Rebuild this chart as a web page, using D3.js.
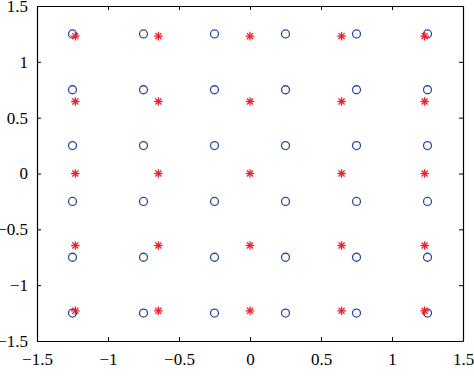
<!DOCTYPE html>
<html>
<head>
<meta charset="utf-8">
<script src="https://cdn.jsdelivr.net/npm/d3@7"></script>
<style>
  body { margin: 0; background: #fff; }
  svg text { font-family: "Liberation Serif", "DejaVu Serif", serif; font-size: 17px; fill: #000; }
</style>
</head>
<body>
<svg id="chart" width="474" height="388"></svg>
<script>
// grid of circles
var circleX = [-1.25, -0.75, -0.25, 0.25, 0.75, 1.25];
var circleY = [-1.25, -0.75, -0.25, 0.25, 0.75, 1.25];
// grid of stars
var starX = [-1.23, -0.645, 0, 0.645, 1.23];
var starY = [-1.23, -0.645, 0, 0.645, 1.23];
var xTicks = [-1.5, -1, -0.5, 0, 0.5, 1, 1.5];
var yTicks = [-1.5, -1, -0.5, 0, 0.5, 1, 1.5];

var svg = d3.select("#chart");
var mLeft = 37, mRight = 463, mTop = 6, mBottom = 341;

var x = d3.scaleLinear().domain([-1.5, 1.5]).range([mLeft, mRight]);
var y = d3.scaleLinear().domain([-1.5, 1.5]).range([mBottom, mTop]);

function fmt(v) { return d3.format("")(v).replace("-", "\u2212"); }

var circles = [];
circleX.forEach(function(cx) { circleY.forEach(function(cy) { circles.push([cx, cy]); }); });
var stars = [];
starX.forEach(function(sx) { starY.forEach(function(sy) { stars.push([sx, sy]); }); });

svg.selectAll("circle.pt")
  .data(circles)
  .enter().append("circle")
  .attr("class", "pt")
  .attr("cx", d => x(d[0]))
  .attr("cy", d => y(d[1]))
  .attr("r", 4)
  .attr("fill", "none")
  .attr("stroke", "#2d4a9c")
  .attr("stroke-width", 1.3);

var r = 4.3;
var star = svg.selectAll("g.star")
  .data(stars)
  .enter().append("g")
  .attr("class", "star")
  .attr("transform", d => "translate(" + x(d[0]) + "," + y(d[1]) + ")");
[0, 45, 90, 135].forEach(function(a) {
  var rad = a * Math.PI / 180;
  star.append("line")
    .attr("x1", -r * Math.cos(rad)).attr("y1", -r * Math.sin(rad))
    .attr("x2", r * Math.cos(rad)).attr("y2", r * Math.sin(rad))
    .attr("stroke", "#e8222b")
    .attr("stroke-width", 1.3);
});

// axes, ticks inward on all four sides
var axBottom = d3.axisBottom(x).tickValues(xTicks).tickSizeInner(-4).tickSizeOuter(0).tickPadding(12).tickFormat(fmt);
var axTop = d3.axisTop(x).tickValues(xTicks).tickSizeInner(-4).tickSizeOuter(0).tickFormat("");
var axLeft = d3.axisLeft(y).tickValues(yTicks).tickSizeInner(-4).tickSizeOuter(0).tickPadding(9).tickFormat(fmt);
var axRight = d3.axisRight(y).tickValues(yTicks).tickSizeInner(-4).tickSizeOuter(0).tickFormat("");

svg.append("g").attr("transform", "translate(0," + mBottom + ")").call(axBottom);
svg.append("g").attr("transform", "translate(0," + mTop + ")").call(axTop);
svg.append("g").attr("transform", "translate(" + mLeft + ",0)").call(axLeft);
svg.append("g").attr("transform", "translate(" + mRight + ",0)").call(axRight);

svg.selectAll(".domain").attr("stroke", "#000").attr("stroke-width", 1.2);
svg.selectAll(".tick line").attr("stroke", "#000").attr("stroke-width", 1);
svg.selectAll(".tick text").attr("font-family", "Liberation Serif").attr("font-size", 17).attr("fill", "#000");
</script>
</body>
</html>
